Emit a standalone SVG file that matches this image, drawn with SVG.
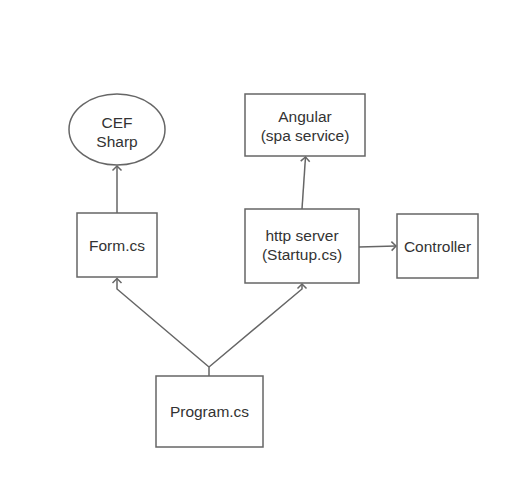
<svg xmlns="http://www.w3.org/2000/svg" width="530" height="500" viewBox="0 0 530 500">
<defs>
<style>
.n{fill:#ffffff;stroke:#666666;stroke-width:1.5}
.t{font-family:"Liberation Sans",Arial,sans-serif;font-size:15.5px;fill:#333333;text-anchor:middle}
.e{fill:none;stroke:#666666;stroke-width:1.5}
</style>
<marker id="arr" markerUnits="userSpaceOnUse" markerWidth="12" markerHeight="12" viewBox="-7 -6 8 12" refX="0" refY="0" orient="auto">
<path d="M-4.5,-4.5 L0,0 L-4.5,4.5" fill="none" stroke="#666666" stroke-width="1.5"/>
</marker>
</defs>
<rect width="530" height="500" fill="#ffffff"/>
<g id="connectors">
<path class="e" d="M117,213 L117,166" marker-end="url(#arr)"/>
<path class="e" d="M302,209 L305.5,157" marker-end="url(#arr)"/>
<path class="e" d="M359,247 L396,246" marker-end="url(#arr)"/>
<path class="e" d="M209,376 L209,367 L117,289 L117,278.5" marker-end="url(#arr)"/>
<path class="e" d="M209,367 L302,289 L302,284" marker-end="url(#arr)"/>
</g>
<g id="cef">
<ellipse class="n" cx="117" cy="129.5" rx="48" ry="35.5"/>
<text class="t" x="117" y="128">CEF</text>
<text class="t" x="117" y="146.5">Sharp</text>
</g>
<g id="form">
<rect class="n" x="77" y="213" width="80" height="64"/>
<text class="t" x="117" y="250.5">Form.cs</text>
</g>
<g id="angular">
<rect class="n" x="245" y="94" width="120" height="62"/>
<text class="t" x="305" y="122">Angular</text>
<text class="t" x="305" y="140.5">(spa service)</text>
</g>
<g id="http">
<rect class="n" x="245" y="209" width="114" height="74"/>
<text class="t" x="302" y="240.5">http server</text>
<text class="t" x="302" y="259.5">(Startup.cs)</text>
</g>
<g id="controller">
<rect class="n" x="397" y="214" width="81" height="64"/>
<text class="t" x="437.5" y="251.5">Controller</text>
</g>
<g id="program">
<rect class="n" x="156" y="376" width="107" height="71"/>
<text class="t" x="209.5" y="416.5">Program.cs</text>
</g>
</svg>
